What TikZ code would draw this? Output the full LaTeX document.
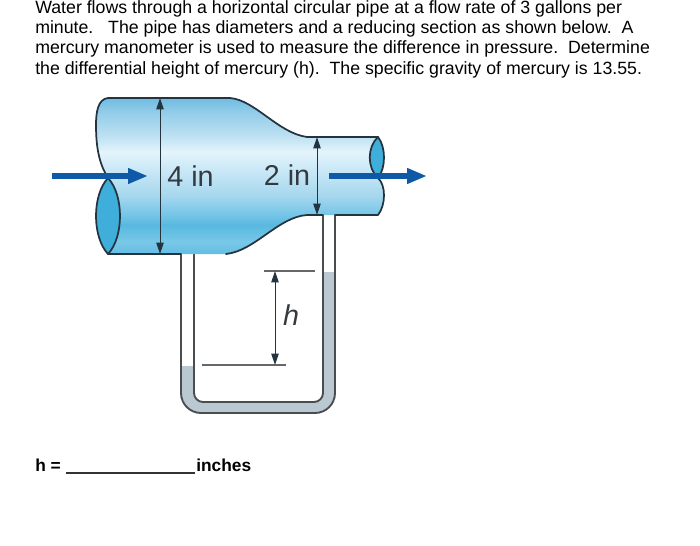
\documentclass[tikz,border=0pt]{standalone}
\usepackage{fontspec}
\setmainfont{Liberation Sans}
\usetikzlibrary{arrows.meta}
\definecolor{wcA}{HTML}{65BDE2}
\definecolor{wcB}{HTML}{78C8E8}
\definecolor{wcC}{HTML}{58B8DF}
\definecolor{wcD}{HTML}{74C5E7}
\definecolor{wcE}{HTML}{A8D8EE}
\definecolor{wcF}{HTML}{D0EBF8}
\definecolor{wcG}{HTML}{E4F4FB}
\definecolor{wcH}{HTML}{BCE0F2}
\definecolor{wcI}{HTML}{93CCE9}
\definecolor{wcJ}{HTML}{6FBCE2}
\pgfdeclareverticalshading{pipeshade}{100bp}{
  color(0bp)=(wcA);color(25bp)=(wcA);color(28.9bp)=(wcB);color(34.3bp)=(wcC);color(37.5bp)=(wcD);color(44bp)=(wcE);
  color(53.5bp)=(wcF);color(57.7bp)=(wcG);color(63bp)=(wcH);color(70.5bp)=(wcI);color(75bp)=(wcJ);color(100bp)=(wcJ)}
\definecolor{lens}{HTML}{3FAEDB}
\definecolor{outline}{HTML}{24343F}
\definecolor{tube}{HTML}{4A4D50}
\definecolor{merc}{HTML}{B9C8D1}
\definecolor{flow}{HTML}{0F5AA6}
\definecolor{labelc}{HTML}{333A40}
\tikzset{
  para/.style={anchor=base west,inner sep=0pt,font=\fontsize{13.3pt}{15pt}\selectfont,text=black},
  answer/.style={anchor=base west,inner sep=0pt,font=\fontsize{13pt}{15pt}\selectfont\bfseries,text=black},
  dimlabel/.style={anchor=base,inner sep=0pt,font=\fontsize{21.5pt}{24pt}\selectfont,text=labelc},
  pipeline/.style={draw=outline,line width=1.3pt,line cap=round,line join=round},
  tubeline/.style={draw=tube,line width=1.4pt},
  dimline/.style={draw=outline,line width=0.7pt,{Stealth[length=8.5pt,width=5.5pt,inset=0pt]}-{Stealth[length=8.5pt,width=5.5pt,inset=0pt]}},
  refline/.style={draw=tube!85,line width=0.8pt},
  flowarrow/.style={draw=flow,line width=4.1pt,-{Triangle[length=15pt,width=11pt]}}
}
\begin{document}
\begin{tikzpicture}[x=0.75pt,y=-0.75pt]
\useasboundingbox (0,0) rectangle (700,546);
% text
\node[para] (l1) at (35,13) {Water flows through a horizontal circular pipe at a flow rate of 3 gallons per};
\node[para] (l2) at (35,33) {minute.\ \ \ The pipe has diameters and a reducing section as shown below.\ \ A};
\node[para] (l3) at (35,53.5) {mercury manometer is used to measure the difference in pressure.\ \ Determine};
\node[para] (l4) at (35,74) {the differential height of mercury (h).\ \ The specific gravity of mercury is 13.55.};
% mercury
\fill[merc] (181,366) [rounded corners=15pt] -- (181,413) -- (335,413) -- (335,300) [sharp corners] -- (335,272) -- (323,272) [rounded corners=6.75pt] -- (323,402) -- (194,402) -- (194,300) [sharp corners] -- (194,366) -- cycle;
% manometer walls
\draw[tubeline,rounded corners=15pt] (181,254) -- (181,413) -- (335,413) -- (335,215);
\draw[tubeline,rounded corners=6.75pt] (194,254) -- (194,402) -- (323,402) -- (323,215);
% pipe body
\shade[shading=pipeshade] (108,98) -- (230,98) .. controls (255,100) and (278,133) .. (307,137) -- (378,137)
  .. controls (381,150) and (381,165) .. (378,178) .. controls (386,185) and (386,205) .. (378,215)
  -- (307,215) .. controls (278,217) and (255,251) .. (226,254) -- (108,254)
  .. controls (124,237) and (124,195) .. (108,178)
  .. controls (100,165) and (96,150) .. (96,125) .. controls (96,112) and (98,99) .. (108,98) -- cycle;
% pipe outline
\draw[pipeline] (108,178) .. controls (100,165) and (96,150) .. (96,125) .. controls (96,112) and (98,99) .. (108,98)
  -- (230,98) .. controls (255,100) and (278,133) .. (307,137) -- (378,137);
\draw[pipeline] (378,178) .. controls (386,185) and (386,205) .. (378,215) -- (335,215);
\draw[pipeline] (323,215) -- (307,215) .. controls (278,217) and (255,251) .. (226,254);
\draw[pipeline] (181,254) -- (108,254);
% lenses
\draw[pipeline,fill=lens] (108,178) .. controls (92,195) and (92,237) .. (108,254) .. controls (124,237) and (124,195) .. (108,178) -- cycle;
\draw[pipeline,fill=lens] (378,137) .. controls (367,147) and (367,168) .. (378,178) .. controls (386,168) and (386,147) .. (378,137) -- cycle;
% dimensions
\coordinate (d4t) at (160,98);
\coordinate (d4b) at (160,254);
\coordinate (d2t) at (317,137);
\coordinate (d2b) at (317,215);
\draw[dimline] (d4t) -- (d4b);
\draw[dimline] (d2t) -- (d2b);
\node[dimlabel] (four) at (190.5,186) {4 in};
\node[dimlabel] (two) at (287,185) {2 in};
% flow arrows
\coordinate (inA) at (52,176);
\coordinate (inB) at (148,176);
\coordinate (outA) at (329,176);
\coordinate (outB) at (427,176);
\draw[flowarrow] (inA) -- (inB);
\draw[flowarrow] (outA) -- (outB);
% h
\coordinate (hta) at (264,271);
\coordinate (htb) at (315,271);
\coordinate (hba) at (202,365);
\coordinate (hbb) at (286,365);
\coordinate (ht) at (275,271);
\coordinate (hb) at (275,365);
\draw[refline] (hta) -- (htb);
\draw[refline] (hba) -- (hbb);
\draw[dimline] (ht) -- (hb);
\node[dimlabel,font=\fontsize{21.5pt}{24pt}\selectfont\itshape] (hlab) at (291,325) {h};
% answer
\node[answer] (heq) at (35,471) {h =};
\coordinate (blA) at (66,473);
\coordinate (blB) at (195,473);
\draw[draw=black!80,line width=1pt] (blA) -- (blB);
\node[answer] (inch) at (196,471) {inches};
\end{tikzpicture}
\end{document}
